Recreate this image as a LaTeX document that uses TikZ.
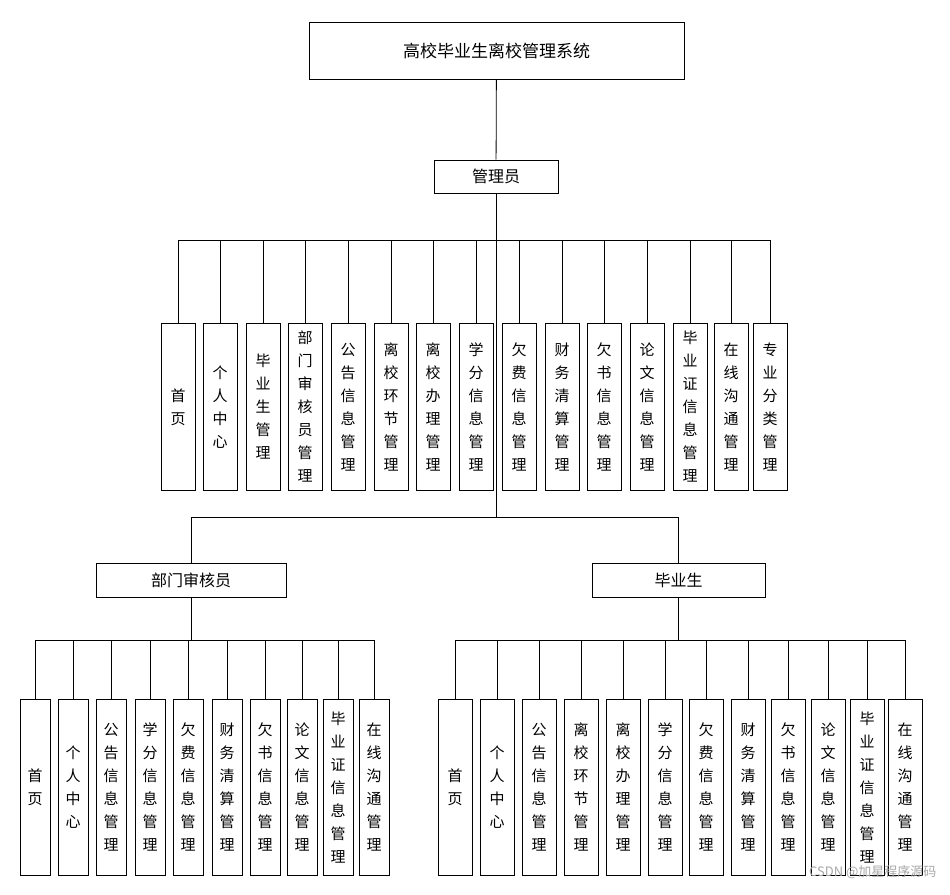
\documentclass[tikz,border=0pt]{standalone}
\usepackage{fontspec}
\setmainfont{Noto Sans CJK SC}
\begin{document}
\begin{tikzpicture}[x=1pt,y=-1pt,
  hbox/.style={draw,thick,font=\fontsize{16}{18}\selectfont,inner sep=0pt},
  vbox/.style={draw,thick,font=\fontsize{15}{23}\selectfont,align=center,inner sep=0pt,anchor=north},
  ln/.style={thick}]
\useasboundingbox (0,0) rectangle (950,894);
\node[hbox,minimum width=375,minimum height=57,font=\fontsize{17}{20}\selectfont] (root) at (496.5,50.5) {高校毕业生离校管理系统};
\node[hbox,minimum width=124,minimum height=33] (adm) at (496,176.5) {管理员};
\node[hbox,minimum width=190,minimum height=34] (dep) at (191,580) {部门审核员};
\node[hbox,minimum width=173,minimum height=34] (grad) at (678.5,580) {毕业生};
\draw[ln] (root) -- (adm);
\coordinate (j) at (496,517);
\draw[ln] (adm) -- (j);
\draw[ln] (j) -| (dep.north);
\draw[ln] (j) -| (grad.north);
% admin children
\foreach \x/\t [count=\i] in {178/首\\页,220/个\\人\\中\\心,263/毕\\业\\生\\管\\理,305/部\\门\\审\\核\\员\\管\\理,348/公\\告\\信\\息\\管\\理,391/离\\校\\环\\节\\管\\理,433/离\\校\\办\\理\\管\\理,476/学\\分\\信\\息\\管\\理,519/欠\\费\\信\\息\\管\\理,562/财\\务\\清\\算\\管\\理,604/欠\\书\\信\\息\\管\\理,647/论\\文\\信\\息\\管\\理,690/毕\\业\\证\\信\\息\\管\\理,731/在\\线\\沟\\通\\管\\理,770/专\\业\\分\\类\\管\\理}{
  \node[vbox,minimum width=34,minimum height=167] (a\i) at (\x,323) {\t};
  \draw[ln] (a\i.north) -- (\x,240);
}
\draw[ln] (178,240) -- (770,240);
% dept children
\foreach \x/\t [count=\i] in {35/首\\页,73/个\\人\\中\\心,111/公\\告\\信\\息\\管\\理,150/学\\分\\信\\息\\管\\理,188/欠\\费\\信\\息\\管\\理,227/财\\务\\清\\算\\管\\理,265/欠\\书\\信\\息\\管\\理,302/论\\文\\信\\息\\管\\理,338/毕\\业\\证\\信\\息\\管\\理,374/在\\线\\沟\\通\\管\\理}{
  \node[vbox,minimum width=30,minimum height=176] (d\i) at (\x,699) {\t};
  \draw[ln] (d\i.north) -- (\x,640);
}
\draw[ln] (35,640) -- (374,640);
\draw[ln] (dep.south) -- (191,640);
% graduate children
\foreach \x/\t [count=\i] in {455/首\\页,497/个\\人\\中\\心,539/公\\告\\信\\息\\管\\理,581/离\\校\\环\\节\\管\\理,623/离\\校\\办\\理\\管\\理,665/学\\分\\信\\息\\管\\理,706/欠\\费\\信\\息\\管\\理,748/财\\务\\清\\算\\管\\理,788/欠\\书\\信\\息\\管\\理,828/论\\文\\信\\息\\管\\理,867/毕\\业\\证\\信\\息\\管\\理,905/在\\线\\沟\\通\\管\\理}{
  \node[vbox,minimum width=34,minimum height=176] (g\i) at (\x,699) {\t};
  \draw[ln] (g\i.north) -- (\x,640);
}
\draw[ln] (455,640) -- (905,640);
\draw[ln] (grad.south) -- (678.5,640);
\node[font=\fontsize{13}{15}\selectfont,text=gray!70,anchor=east] (wm) at (940,872) {CSDN @加星程序源码};
\end{tikzpicture}
\end{document}
